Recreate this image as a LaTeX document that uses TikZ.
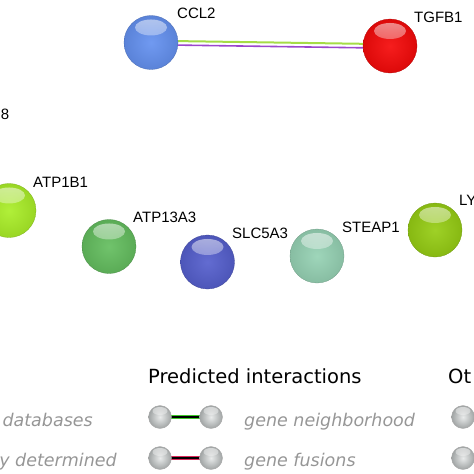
\documentclass[tikz,border=0pt]{standalone}
\usepackage{fontspec}
\setmainfont{Liberation Sans}
\newfontfamily\legendfont{DejaVu Sans}
\usetikzlibrary{fadings,backgrounds}
\definecolor{cblue}{RGB}{100,145,240}
\definecolor{cred}{RGB}{245,10,10}
\definecolor{clime}{RGB}{170,238,40}
\definecolor{cgreen}{RGB}{100,190,95}
\definecolor{cnavy}{RGB}{85,95,205}
\definecolor{cmint}{RGB}{150,210,180}
\definecolor{colive}{RGB}{150,205,20}
\definecolor{cgrey}{RGB}{200,205,205}
\definecolor{egreen}{RGB}{165,220,70}
\definecolor{epurple}{RGB}{155,70,205}
\definecolor{lgreen}{RGB}{60,200,40}
\definecolor{lred}{RGB}{220,40,90}
\definecolor{ltext}{RGB}{150,150,150}
\tikzfading[name=gloss, top color=transparent!45, bottom color=transparent!100]
\tikzset{
  ball/.style={circle, inner sep=0pt, minimum size=54pt,
    draw=#1!75!black, line width=0.3pt,
    inner color=#1!92!white, outer color=#1!90!black,
    path picture={\fill[white, path fading=gloss]
      ([yshift=15pt]path picture bounding box.center) ellipse (16pt and 8pt);}},
  smallball/.style={circle, inner sep=0pt, minimum size=23pt,
    draw=gray!70, line width=0.3pt,
    inner color=cgrey!40!white, outer color=cgrey!80!black,
    path picture={\fill[white, path fading=gloss]
      ([yshift=6pt]path picture bounding box.center) ellipse (7.5pt and 4pt);}},
  glabel/.style={anchor=west, inner sep=0pt, font=\fontsize{15}{18}\selectfont},
  ltitle/.style={anchor=base west, inner sep=0pt, font=\legendfont\fontsize{19.5}{22}\selectfont},
  litem/.style={inner sep=0pt, text=ltext, font=\legendfont\itshape\fontsize{17.5}{20}\selectfont}
}
\begin{document}
\begin{tikzpicture}[x=1pt,y=1pt]
\useasboundingbox (0,0) rectangle (474,-474);
\clip (0,0) rectangle (474,-474);
% network nodes
\node[ball=cblue]  (ccl2)    at (151,-42.5) {};
\node[ball=cred]   (tgfb1)   at (390,-46)   {};
\node[ball=clime]  (atp1b1)  at (9,-210.5)  {};
\node[ball=cgreen] (atp13a3) at (109,-246.5){};
\node[ball=cnavy]  (slc5a3)  at (207.5,-262){};
\node[ball=cmint]  (steap1)  at (317,-256)  {};
\node[ball=colive] (ly)      at (435,-230)  {};
% labels
\node[glabel] (lccl2)  at (177,-13)   {CCL2};
\node[glabel] (ltgfb1) at (414,-17.5) {TGFB1};
\node[glabel, anchor=east] (l8) at (9.5,-114) {8};
\node[glabel] (latp1b1)  at (33,-182.5)  {ATP1B1};
\node[glabel] (latp13a3) at (133,-217.5) {ATP13A3};
\node[glabel] (lslc5a3)  at (232,-233.5) {SLC5A3};
\node[glabel] (lsteap1)  at (342,-227.5) {STEAP1};
\node[glabel] (lly)      at (459,-200.5) {LY};
% edges
\begin{scope}[on background layer]
  \draw[egreen, line width=2pt] ([yshift=1.8pt]ccl2.center) -- ([yshift=1.8pt]tgfb1.center);
  \draw[epurple, line width=1.6pt] ([yshift=-2.2pt]ccl2.center) -- ([yshift=-2.2pt]tgfb1.center);
\end{scope}
% legend
\node[ltitle] (lpred) at (148,-383) {Predicted interactions};
\node[ltitle] (lot) at (448,-383) {Ot};
\node[litem, anchor=base east] (ldb) at (93,-426) {databases};
\node[litem, anchor=base east] (lexp) at (117,-466) {ly determined};
\node[smallball] (n1a) at (160,-417) {};
\node[smallball] (n1b) at (211,-417) {};
\node[smallball] (n2a) at (160,-458) {};
\node[smallball] (n2b) at (211,-458) {};
\node[smallball] (o1) at (463,-417) {};
\node[smallball] (o2) at (463,-458) {};
\begin{scope}[on background layer]
  \draw[lgreen, line width=3.6pt] (n1a.center) -- (n1b.center);
  \draw[black, line width=1.6pt] (n1a.center) -- (n1b.center);
  \draw[lred, line width=3.6pt] (n2a.center) -- (n2b.center);
  \draw[black, line width=1.6pt] (n2a.center) -- (n2b.center);
\end{scope}
\node[litem, anchor=base west] (lgn) at (244,-426) {gene neighborhood};
\node[litem, anchor=base west] (lgf) at (244,-466) {gene fusions};
\end{tikzpicture}
\end{document}
